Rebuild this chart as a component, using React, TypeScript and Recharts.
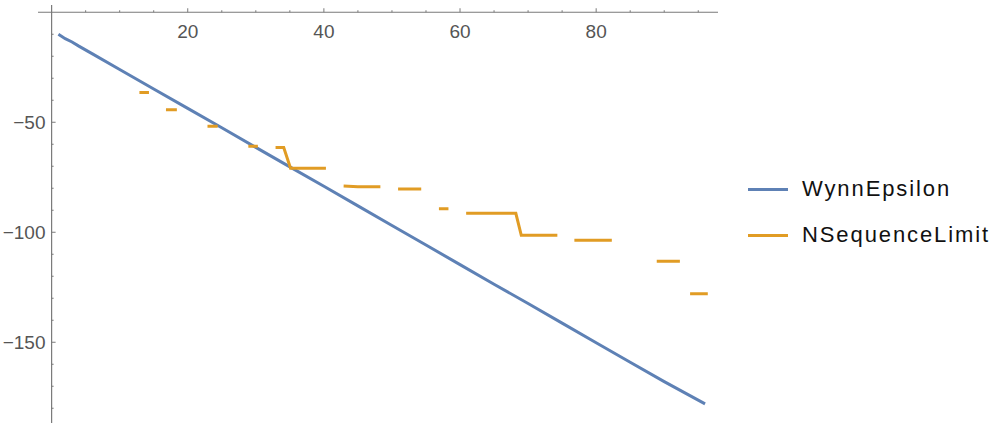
import React from "react";
import { LineChart, Line, XAxis, YAxis, ReferenceLine } from "recharts";

// WynnEpsilon (blue)
const wynnX = [1, 2, 3, 4, 6, 10, 15, 20, 25, 30, 35, 40, 45, 50, 55, 60, 65, 70, 75, 80, 85, 90, 96];
const wynnY = [-10.0, -12.0, -13.5, -15.4, -18.9, -26.0, -34.9, -43.7, -52.5, -61.4, -70.3, -79.1, -88.0, -96.9, -105.8, -114.7, -123.6, -132.4, -141.3, -150.2, -159.1, -167.9, -178.0];

// NSequenceLimit (orange), null = gap between pieces
const nslX = [12.9, 14.3, 15, 16.8, 18.4, 20, 22.9, 24.4, 26, 28.9, 30.3, 31, 32.9, 34.1, 35.1, 40.3, 41, 42.9, 45, 48.3, 49, 50.9, 54.3, 55, 56.9, 58.3, 59, 60.9, 68.2, 69.0, 74.3, 75, 76.8, 82.3, 85, 88.9, 92.3, 93, 93.8, 96.4];
const nslY = [-36.5, -36.5, null, -44.3, -44.3, null, -51.8, -51.8, null, -60.9, -60.9, null, -61.5, -61.5, -70.9, -70.9, null, -79.0, -79.3, -79.3, null, -80.3, -80.3, null, -89.3, -89.3, null, -91.4, -91.4, -101.4, -101.4, null, -103.6, -103.6, null, -113.2, -113.2, null, -128.0, -128.0];

const xTicks = [5, 10, 15, 20, 25, 30, 35, 40, 45, 50, 55, 60, 65, 70, 75, 80, 85, 90, 95];
const yTicks = [-180, -170, -160, -150, -140, -130, -120, -110, -100, -90, -80, -70, -60, -50, -40, -30, -20, -10];

const X_MIN = -2;
const X_MAX = 97.9;
const Y_MIN = -186.7;
const Y_MAX = 3.3;

const W = 1000;
const H = 428;
const PLOT_LEFT = 38;
const PLOT_TOP = 5;
const PLOT_W = 680;
const PLOT_H = 418;

// pixel positions of the axes (they cross at 0,0)
const X_AXIS_PX = PLOT_TOP + (PLOT_H * Y_MAX) / (Y_MAX - Y_MIN);
const Y_AXIS_PX = PLOT_LEFT + (PLOT_W * (0 - X_MIN)) / (X_MAX - X_MIN);

const AXIS = "#7a7a7a";
const LABEL = "#555555";
const FONT = "'Liberation Sans', Arial, sans-serif";

const wynnData = wynnX.map((x, i) => ({ x, y: wynnY[i] }));
const nslData = nslX.map((x, i) => ({ x, y: nslY[i] }));

function XTick(props: any) {
    const { x, payload } = props;
    const v = payload.value;
    const major = v % 20 === 0;
    return (
        <g>
            <line x1={x} x2={x} y1={X_AXIS_PX} y2={X_AXIS_PX - (major ? 4 : 2)} stroke={AXIS} strokeWidth={1} />
            {major && (
                <text x={x} y={X_AXIS_PX + 26} textAnchor="middle" fill={LABEL} fontSize={19} fontFamily={FONT}>
                    {v}
                </text>
            )}
        </g>
    );
}

function YTick(props: any) {
    const { y, payload } = props;
    const v = payload.value;
    const major = v % 50 === 0;
    return (
        <g>
            <line x1={Y_AXIS_PX} x2={Y_AXIS_PX + (major ? 4 : 2)} y1={y} y2={y} stroke={AXIS} strokeWidth={1} />
            {major && (
                <text x={45.5} y={y + 7} textAnchor="end" fill={LABEL} fontSize={19} fontFamily={FONT}>
                    {"\u2212" + Math.abs(v)}
                </text>
            )}
        </g>
    );
}

function LegendRow({ color, label, top }: { color: string; label: string; top: number }) {
    return (
        <div style={{ position: "absolute", left: 748, top: top - 14, height: 28, display: "flex", alignItems: "center" }}>
            <div style={{ width: 40, height: 3, background: color }} />
            <span style={{ marginLeft: 14, fontSize: 22, letterSpacing: 1.9, fontFamily: FONT, color: "#111", whiteSpace: "nowrap" }}>{label}</span>
        </div>
    );
}

export default function App() {
    return (
        <div style={{ position: "absolute", left: 0, top: 0, width: W, height: H, background: "#fff" }}>
            <LineChart width={W} height={H} margin={{ top: 0, left: 0, right: W - PLOT_LEFT - PLOT_W, bottom: H - PLOT_TOP - PLOT_H }}>
                <XAxis
                    type="number"
                    dataKey="x"
                    orientation="top"
                    height={PLOT_TOP}
                    domain={[X_MIN, X_MAX]}
                    ticks={xTicks}
                    interval={0}
                    axisLine={false}
                    tickLine={false}
                    tick={<XTick />}
                    allowDataOverflow
                />
                <YAxis
                    type="number"
                    width={PLOT_LEFT}
                    domain={[Y_MIN, Y_MAX]}
                    ticks={yTicks}
                    interval={0}
                    axisLine={false}
                    tickLine={false}
                    tick={<YTick />}
                    allowDataOverflow
                />
                <ReferenceLine y={0} stroke={AXIS} strokeWidth={1.2} />
                <ReferenceLine x={0} stroke={AXIS} strokeWidth={1.2} />
                <Line data={wynnData} dataKey="y" type="linear" stroke="#5e81b5" strokeWidth={3} dot={false} isAnimationActive={false} />
                <Line data={nslData} dataKey="y" type="linear" stroke="#e19c24" strokeWidth={3} dot={false} connectNulls={false} isAnimationActive={false} />
            </LineChart>
            <LegendRow color="#5e81b5" label="WynnEpsilon" top={189} />
            <LegendRow color="#e19c24" label="NSequenceLimit" top={235} />
        </div>
    );
}
